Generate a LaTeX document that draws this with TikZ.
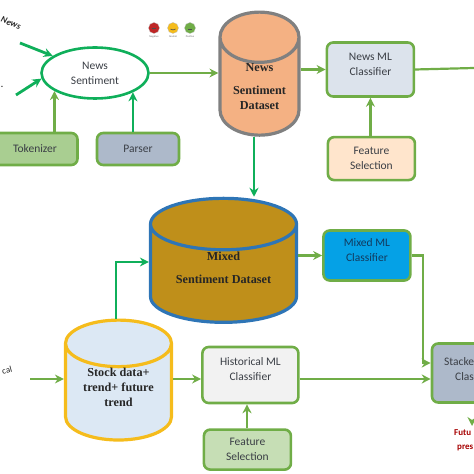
\documentclass[tikz,border=0pt]{standalone}
\usepackage{fontspec}
\setmainfont{Carlito}
\newfontfamily\serifbold{Liberation Serif}
\usepackage{tikz}
\usetikzlibrary{arrows.meta,positioning,shapes.geometric,calc}
\definecolor{LeafGreen}{HTML}{70AD47}
\definecolor{BrightGreen}{HTML}{0FAF5A}
\definecolor{Peach}{HTML}{F4B183}
\definecolor{PaleBlue}{HTML}{DCE3EC}
\definecolor{SteelGrey}{HTML}{ADB9CA}
\definecolor{Ochre}{HTML}{BF8F1A}
\definecolor{DeepBlue}{HTML}{2E75B6}
\definecolor{Amber}{HTML}{F5BC1C}
\definecolor{IceBlue}{HTML}{DCE8F4}
\definecolor{Ink}{HTML}{3B3F46}
\definecolor{Navy}{HTML}{123A5E}

\begin{document}
\begin{tikzpicture}[
  x=1pt,y=1pt,
  block/.style={
    draw=LeafGreen,
    line width=2.6pt,
    rounded corners=2.2mm,
    align=center,
    text=Ink,
    font=\fontsize{11.5}{15}\selectfont,
    inner sep=0pt,
    minimum width=87pt,
    minimum height=33pt
  },
  dbase/.style={
    shape=cylinder,
    shape border rotate=90,
    line width=3.2pt,
    align=center,
    inner sep=0pt,
    font=\serifbold\bfseries\fontsize{12.2}{15}\selectfont
  },
  arrow/.style={-{Stealth[length=9pt,width=9pt]},line width=2.2pt,color=LeafGreen},
  greenarrow/.style={arrow,line width=2.8pt,color=BrightGreen},
  face/.style={circle,minimum size=11pt,inner sep=0pt,draw=black!25,line width=.3pt},
  mouth/.style={line width=.6pt,color=black!70},
  tiny/.style={font=\fontsize{2.6}{3}\selectfont,text=black!60,inner sep=0pt}
]
\useasboundingbox (0,0) rectangle (474,474);

\node[ellipse,draw=BrightGreen,line width=2.6pt,minimum width=107pt,minimum height=51pt,inner sep=0pt,align=center,
  font=\fontsize{11.5}{15}\selectfont,text=Ink] (sentiment) at (95,401) {News\\Sentiment};
\node[block,fill=LeafGreen!60,minimum width=85pt,minimum height=32pt] (tokenizer) at (35,325) {Tokenizer};
\node[block,fill=SteelGrey,minimum width=82pt,minimum height=32pt] (parser) at (138,325) {Parser};

\node[dbase,draw=gray,fill=Peach,aspect=.95,minimum width=79pt,minimum height=122pt,text=black!85] (newsdata) at (259.5,387) {News\\[8pt]Sentiment\\Dataset};
\node[block,fill=PaleBlue,minimum height=54pt,text depth=11pt,right=25pt of newsdata,yshift=17.5pt] (newsclf) {News ML\\Classifier};
\node[block,fill=orange!20,minimum height=43pt,below=38pt of newsclf,xshift=1pt] (newsfeat) {Feature\\Selection};

\node[dbase,draw=DeepBlue,fill=Ochre,aspect=.54,minimum width=146pt,minimum height=124pt,text depth=13pt,text=black!85] (mixeddata) at (223.5,200) {Mixed\\[8pt]Sentiment Dataset};
\node[block,fill=cyan!90!blue,minimum height=50pt,text depth=11pt,text=Navy,right=24pt of mixeddata,yshift=18.5pt] (mixedclf) {Mixed ML\\Classifier};

\node[dbase,draw=Amber,fill=IceBlue,aspect=.66,minimum width=106pt,minimum height=114pt,text depth=10pt,text=black!85] (stock) at (118.5,81.5) {Stock data+\\trend+ future\\trend};
\node[block,fill=black!5,minimum width=96pt,minimum height=56pt,text depth=12pt,right=28pt of stock,yshift=17.5pt] (histclf) {Historical ML\\Classifier};
\node[block,fill=LeafGreen!40,minimum height=40pt,below=24pt of histclf,xshift=-3pt] (histfeat) {Feature\\Selection};

% stacked box runs off the page
\node[block,fill=SteelGrey,minimum width=90pt,minimum height=59pt,text=Ink] (stacked) at (477,101) {};
\node[text=Ink,font=\fontsize{11.5}{15}\selectfont,anchor=west,inner sep=0pt] (stackedtop) at (444,112) {Stacke};
\node[text=Ink,font=\fontsize{11.5}{15}\selectfont,anchor=west,inner sep=0pt] (stackedlow) at (455,97) {Clas};
\node[text=red!65!black,font=\bfseries\fontsize{9}{14}\selectfont,anchor=west,inner sep=0pt] (futuretop) at (454,41) {Futu};
\node[text=red!65!black,font=\bfseries\fontsize{9}{14}\selectfont,anchor=west,inner sep=0pt] (futurelow) at (457,26) {pres};

% cut off source labels
\node[font=\bfseries\itshape\fontsize{9}{11}\selectfont,text=black!85,rotate=-22,inner sep=0pt] (newslabel) at (11,451) {News};
\node[font=\bfseries\fontsize{9}{11}\selectfont,text=black!85,inner sep=0pt] (dotlabel) at (2,387) {.};
\node[text=black!85,font=\fontsize{9}{11}\selectfont,rotate=15,inner sep=0pt] (locallabel) at (7,104) {cal};
\coordinate (newsinup) at (20,431);
\coordinate (newsindown) at (16,379);
\coordinate (localin) at (30,95);
\coordinate (newsout) at (474,406);
\coordinate (stackedturn) at (423,218);
\coordinate (futuretail) at (472,54);
\coordinate (futurehead) at (472,48);

% sentiment faces
\node[face,fill=red!70!black!85] (badface) at (154,446) {};
\node[face,fill=Amber] (midface) at (173,446) {};
\node[face,fill=LeafGreen] (goodface) at (190,446) {};
\node[tiny,below=2pt of badface] (badlabel) {Negative};
\node[tiny,below=2pt of midface] (midlabel) {Neutral};
\node[tiny,below=2pt of goodface] (goodlabel) {Positive};
\draw[mouth] ([xshift=-2pt]badface.center) -- ([xshift=2pt]badface.center);
\draw[mouth] ([shift={(-2.5pt,-1pt)}]midface.center) to[bend right=40] ([shift={(2.5pt,-1pt)}]midface.center);
\draw[mouth] ([shift={(-2pt,-1pt)}]goodface.center) -- ([shift={(2pt,-1pt)}]goodface.center);

\draw[greenarrow] (newsinup) -- (sentiment.158);
\draw[greenarrow] (newsindown) -- (sentiment.186);
\draw[arrow] (tokenizer.north -| sentiment.204) -- (sentiment.204);
\draw[greenarrow] (parser.north -| sentiment.-27) -- (sentiment.-27);
\draw[arrow] (sentiment) -- (sentiment -| newsdata.west);
\draw[arrow] (newsclf -| newsdata.east) -- (newsclf);
\draw[arrow] (newsfeat.north -| newsclf.south) -- (newsclf.south);
\draw[arrow,-] (newsclf.east) -- (newsout);
\draw[greenarrow] (254,0 |- newsdata.south) -- (254,0 |- mixeddata.north);
\draw[arrow] (mixedclf -| mixeddata.east) -- (mixedclf);
\draw[arrow] (mixedclf.east) -| (stackedturn) |- (stacked.west |- 0,111);
\draw[greenarrow,line width=2pt] (stock.north -| 116,0) |- (mixeddata.west |- 0,212);
\draw[arrow] (localin) -- (localin -| stock.west);
\draw[arrow] (stock.east |- localin) -- (histclf.west |- localin);
\draw[arrow] (histclf.east |- localin) -- (stacked.west |- localin);
\draw[arrow] (histfeat.north -| 247,0) -- (histclf.south -| 247,0);
\draw[arrow] (futuretail) -- (futurehead);
\end{tikzpicture}
\end{document}
